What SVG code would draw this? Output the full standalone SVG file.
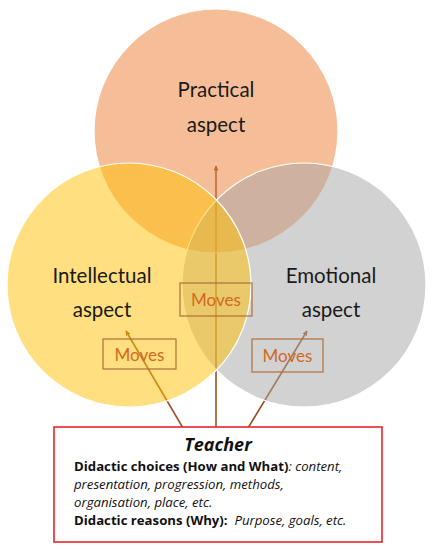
<svg xmlns="http://www.w3.org/2000/svg" width="435" height="550" viewBox="0 0 435 550">
<defs>
<style>
.lbl{font-family:Lato,"Open Sans","Liberation Sans",sans-serif;font-size:20.5px;fill:#1a1a1a;text-anchor:middle}
.mv{font-family:Lato,"Open Sans","Liberation Sans",sans-serif;font-size:17px;fill:#D2691E;text-anchor:middle}
.mvbox{fill:none;stroke:#B0703A;stroke-width:1.2}
.circ{stroke:#ffffff;stroke-width:1.2}
.conn{stroke:#9A5228;stroke-width:1.6;fill:none}
.tb{font-family:"Open Sans",Lato,"Liberation Sans",sans-serif;font-size:13.2px;fill:#111}
.tt{font-family:"Open Sans",Lato,"Liberation Sans",sans-serif;font-size:18px;fill:#111;font-weight:bold;font-style:italic;text-anchor:middle}
.b{font-weight:bold}
.i{font-style:italic}
</style>
<marker id="ah" viewBox="0 0 10 10" refX="9" refY="5" markerWidth="5" markerHeight="5" orient="auto-start-reverse" markerUnits="userSpaceOnUse">
<path d="M0,0 L10,5 L0,10 z" fill="#9A5228"/>
</marker>
</defs>
<rect width="435" height="550" fill="#ffffff"/>
<g id="connectors">
<line class="conn" x1="216" y1="428" x2="216" y2="166" marker-end="url(#ah)"/>
<line class="conn" x1="183" y1="428" x2="126" y2="331" marker-end="url(#ah)"/>
<line class="conn" x1="248" y1="428" x2="307" y2="331" marker-end="url(#ah)"/>
</g>
<g id="practical">
<circle class="circ" cx="216" cy="131" r="122" fill="#ED7D31" fill-opacity="0.5"/>
<text class="lbl" x="216" y="97">Practical</text>
<text class="lbl" x="216" y="132">aspect</text>
</g>
<g id="emotional">
<circle class="circ" cx="304" cy="285" r="122" fill="#A5A5A5" fill-opacity="0.5"/>
<text class="lbl" x="331" y="283">Emotional</text>
<text class="lbl" x="331" y="317">aspect</text>
</g>
<g id="intellectual">
<circle class="circ" cx="129" cy="285" r="122" fill="#FFC000" fill-opacity="0.5"/>
<text class="lbl" x="102" y="283">Intellectual</text>
<text class="lbl" x="102" y="317">aspect</text>
</g>
<g id="moves-center">
<rect class="mvbox" x="180" y="283" width="72" height="33"/>
<text class="mv" x="216" y="306">Moves</text>
</g>
<g id="moves-left">
<rect class="mvbox" x="103" y="339" width="73" height="30"/>
<text class="mv" x="139.5" y="361">Moves</text>
</g>
<g id="moves-right">
<rect class="mvbox" x="252" y="339" width="71" height="33"/>
<text class="mv" x="287.5" y="362">Moves</text>
</g>
<g id="teacher">
<rect x="54" y="427" width="328" height="115" fill="#ffffff" stroke="#E8262B" stroke-width="1.6"/>
<text class="tt" x="218" y="451">Teacher</text>
<text class="tb" x="74" y="471"><tspan class="b">Didactic choices (How and What)</tspan><tspan class="i">: content,</tspan></text>
<text class="tb i" x="74" y="489">presentation, progression, methods,</text>
<text class="tb i" x="74" y="507">organisation, place, etc.</text>
<text class="tb" x="74" y="525"><tspan class="b">Didactic reasons (Why):</tspan><tspan class="i" xml:space="preserve">  Purpose, goals, etc.</tspan></text>
</g>
</svg>
